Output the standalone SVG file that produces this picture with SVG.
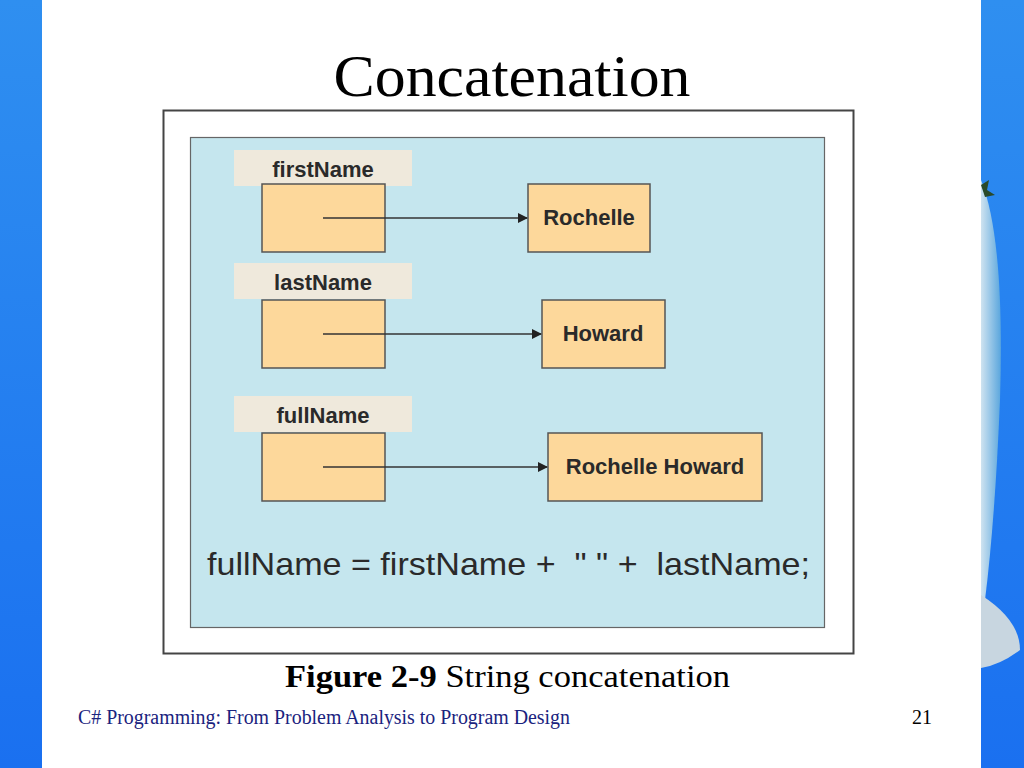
<svg xmlns="http://www.w3.org/2000/svg" width="1024" height="768" viewBox="0 0 1024 768">
<defs>
<linearGradient id="bg" x1="0" y1="0" x2="0" y2="1"><stop offset="0" stop-color="#2f8ff0"/><stop offset="1" stop-color="#1a70f0"/></linearGradient>
<linearGradient id="tw" x1="0" y1="0" x2="1" y2="0"><stop offset="0" stop-color="#cfe3f0"/><stop offset="1" stop-color="#5aa6dd"/></linearGradient>
<marker id="ar" markerWidth="10" markerHeight="10" refX="9" refY="5" orient="auto" markerUnits="userSpaceOnUse"><path d="M0,0 L10,5 L0,10 Z" fill="#222"/></marker>
<style>
.lbl{fill:#efe9dc}
.box{fill:#fdd89b;stroke:#555;stroke-width:1.5}
.t{font-family:"Liberation Sans",Arial,sans-serif;font-weight:bold;font-size:22px;fill:#2a2a2a;text-anchor:middle}
.c{stroke:#333;stroke-width:1.3;fill:none;marker-end:url(#ar)}
</style>
</defs>
<rect width="1024" height="768" fill="url(#bg)"/>
<path d="M981,180 Q1005,240 1000,400 Q995,520 985,600 L981,600 Z" fill="url(#tw)"/>
<path d="M981,595 Q1020,620 1020,650 Q1000,665 981,668 Z" fill="#c8d6e0"/>
<path d="M981,185 l8,-5 l-2,10 l8,5 l-10,2 Z" fill="#2a4a2a"/>
<rect x="42" y="0" width="939" height="768" fill="#fff"/>
<text x="512" y="96" font-family="Liberation Serif,serif" font-size="60" text-anchor="middle" textLength="357" lengthAdjust="spacingAndGlyphs">Concatenation</text>
<rect x="163.5" y="110.5" width="690" height="543" fill="#fff" stroke="#444" stroke-width="2"/>
<rect x="190.5" y="137.5" width="634" height="490" fill="#c5e6ee" stroke="#666" stroke-width="1.2"/>
<g id="firstName"><rect class="lbl" x="234" y="150" width="178" height="36"/><text class="t" x="323" y="177">firstName</text><rect class="box" x="262" y="184" width="123" height="68"/></g>
<g id="Rochelle"><rect class="box" x="528" y="184" width="122" height="68"/><text class="t" x="589" y="225">Rochelle</text></g>
<g id="lastName"><rect class="lbl" x="234" y="263" width="178" height="36"/><text class="t" x="323" y="290">lastName</text><rect class="box" x="262" y="300" width="123" height="68"/></g>
<g id="Howard"><rect class="box" x="542" y="300" width="123" height="68"/><text class="t" x="603" y="341">Howard</text></g>
<g id="fullName"><rect class="lbl" x="234" y="396" width="178" height="36"/><text class="t" x="323" y="423">fullName</text><rect class="box" x="262" y="433" width="123" height="68"/></g>
<g id="RochelleHoward"><rect class="box" x="548" y="433" width="214" height="68"/><text class="t" x="655" y="474">Rochelle Howard</text></g>
<g id="connectors">
<line class="c" x1="323" y1="218" x2="527" y2="218"/>
<line class="c" x1="323" y1="334" x2="541" y2="334"/>
<line class="c" x1="323" y1="467" x2="547" y2="467"/>
</g>
<text x="207" y="575" font-family="Liberation Sans,Arial,sans-serif" font-size="32" fill="#2a2a2a" xml:space="preserve" textLength="603" lengthAdjust="spacingAndGlyphs">fullName = firstName +  " " +  lastName;</text>
<text x="285" y="687" font-family="Liberation Serif,serif" font-size="32" textLength="445" lengthAdjust="spacingAndGlyphs"><tspan font-weight="bold">Figure 2-9</tspan>  String concatenation</text>
<text x="78" y="724" font-family="Liberation Serif,serif" font-size="20" fill="#1a237e" textLength="492" lengthAdjust="spacingAndGlyphs">C# Programming: From Problem Analysis to Program Design</text>
<text x="932" y="724" font-family="Liberation Serif,serif" font-size="20" text-anchor="end">21</text>
</svg>
